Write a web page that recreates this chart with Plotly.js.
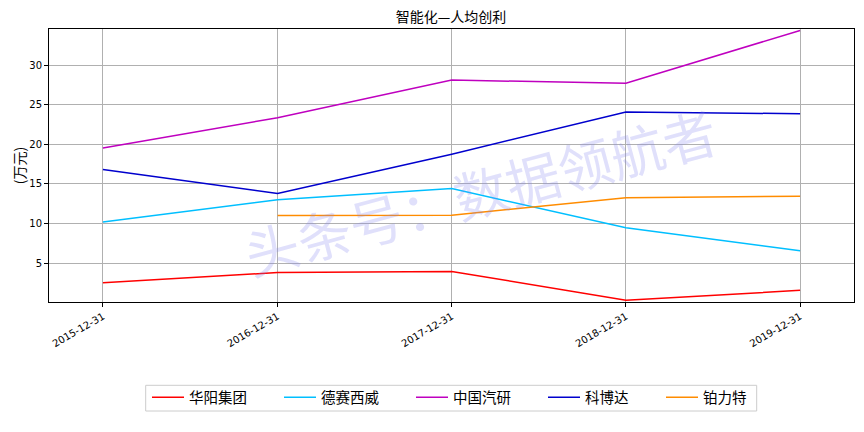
<!DOCTYPE html>
<html>
<head>
<meta charset="utf-8">
<script src="https://cdn.plot.ly/plotly-3.0.1.min.js"></script>
<style>html,body{margin:0;padding:0;background:#fff;}#chart{width:864px;height:432px;}</style>
</head>
<body>
<div id="chart"></div>
<script>
const dates = ['2015-12-31', '2016-12-31', '2017-12-31', '2018-12-31', '2019-12-31'];
const tickLabels = ['2015-12-31', '2016-12-31', '2017-12-31', '2018-12-31', '2019-12-31'];
const seriesNames = ['华阳集团', '德赛西威', '中国汽研', '科博达', '铂力特'];
const huayang = [2.51, 3.80, 3.94, 0.30, 1.55];
const desay = [10.18, 12.99, 14.40, 9.45, 6.55];
const caeri = [19.52, 23.35, 28.10, 27.70, 34.37];
const keboda = [16.82, 13.79, 18.74, 24.07, 23.85];
const bright = [null, 11.01, 11.04, 13.25, 13.43];
const colors = ['#ff0000', '#00bfff', '#bf00bf', '#0000cd', '#ff8c00'];

const values = [huayang, desay, caeri, keboda, bright];
const cjk = '"Noto Sans CJK SC", "DejaVu Sans", sans-serif';

// layout geometry (pixels)
const M = {l: 49, r: 10, t: 29, b: 130};
const W = 864, H = 432;
const pw = W - M.l - M.r, ph = H - M.t - M.b;
const px2x = p => (p - M.l) / pw;
const py2y = p => (H - M.b - p) / ph;
const legendLineStart = [152, 284, 416, 548, 666];
const legendRowY = 397.3;
const legendItemWidth = 32;

const legendIds = ['legend', 'legend2', 'legend3', 'legend4', 'legend5'];

const traces = values.map((v, i) => ({
  type: 'scatter', mode: 'lines', x: dates, y: v, name: seriesNames[i],
  line: {color: colors[i], width: 1.5}, connectgaps: false, legend: legendIds[i]
}));

const axisCommon = {
  showline: true, mirror: true, linecolor: '#000', linewidth: 1,
  ticks: 'outside', ticklen: 4, tickcolor: '#000', tickwidth: 1,
  showgrid: true, gridcolor: '#b0b0b0', gridwidth: 1, zeroline: false,
  automargin: false,
  tickfont: {family: '"DejaVu Sans", sans-serif', size: 10, color: '#000'}
};

const layout = {
  width: W, height: H,
  margin: M,
  paper_bgcolor: '#fff', plot_bgcolor: '#fff',
  title: {text: '智能化—人均创利', font: {family: cjk, size: 14, color: '#000'}, x: 0.522, xanchor: 'center', y: 0.96, yanchor: 'middle'},
  xaxis: Object.assign({}, axisCommon, {
    type: 'date', range: ['2015-09-09', '2020-04-22'],
    tickmode: 'array', tickvals: dates, ticktext: tickLabels, tickangle: -30
  }),
  yaxis: Object.assign({}, axisCommon, {
    range: [0.08, 34.55], tickmode: 'array', tickvals: [5, 10, 15, 20, 25, 30],
    title: {text: '(万元)', font: {family: cjk, size: 14, color: '#000'}, standoff: 0}
  }),
  showlegend: true,
  shapes: [{
    type: 'rect', xref: 'paper', yref: 'paper',
    x0: px2x(145.7), x1: px2x(756.7), y0: py2y(411), y1: py2y(385.3),
    line: {color: '#cccccc', width: 1}, fillcolor: 'rgba(0,0,0,0)', layer: 'below'
  }],
  annotations: [{
    xref: 'paper', yref: 'paper', x: 0.536, y: 0.41, xanchor: 'center', yanchor: 'middle',
    text: '头条号：数据领航者', showarrow: false, textangle: -15,
    font: {family: cjk, size: 54, color: 'rgba(130,130,240,0.25)'}
  }]
};

legendIds.forEach((id, i) => {
  layout[id] = {
    orientation: 'h', xanchor: 'left', yanchor: 'middle',
    x: px2x(legendLineStart[i] - 5),
    y: py2y(legendRowY),
    borderwidth: 0, bgcolor: 'rgba(0,0,0,0)',
    font: {family: cjk, size: 14.5, color: '#000'},
    itemwidth: legendItemWidth
  };
});

Plotly.newPlot('chart', traces, layout, {displayModeBar: false, staticPlot: true});
</script>
</body>
</html>
